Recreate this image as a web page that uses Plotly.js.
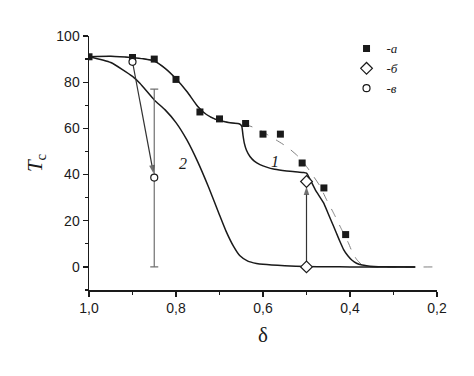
<!DOCTYPE html>
<html>
<head>
<meta charset="utf-8">
<script src="https://cdn.plot.ly/plotly-3.0.1.min.js"></script>
<style>html,body{margin:0;padding:0;background:#fff;}#chart{width:474px;height:376px;}</style>
</head>
<body>
<div id="chart"></div>
<script>
// Series a (filled squares)
const aX = [1.0, 0.9, 0.85, 0.8, 0.745, 0.70, 0.64, 0.60, 0.56, 0.51, 0.46, 0.41];
const aY = [91, 90.7, 90, 81.2, 67.1, 64.1, 62.1, 57.5, 57.5, 45, 34.2, 14];
// Series б (open diamonds)
const bX = [0.5, 0.5];
const bY = [0, 37];
// Series в (open circles) with error bar on second point
const vX = [0.9, 0.85];
const vY = [88.8, 38.7];
const vErrX = [0.85];
const vErrY = [38.7];
const vErrPlus = [38.3];
const vErrMinus = [38.7];
// Fit through series a (dashed)
const fitX = [1.0, 0.95, 0.9, 0.875, 0.85, 0.825, 0.8, 0.775, 0.75, 0.73, 0.71, 0.69, 0.67, 0.65, 0.63, 0.61, 0.59, 0.57, 0.545, 0.52, 0.5, 0.485, 0.469, 0.455, 0.438, 0.42, 0.404, 0.395, 0.385, 0.375, 0.365, 0.35, 0.2];
const fitY = [91, 91.2, 90.6, 90.1, 89.2, 86, 81.5, 76, 69.5, 66, 64, 63, 62.3, 62, 61, 59.5, 57.3, 55, 52, 48, 43.5, 39.5, 35, 29.5, 23.4, 16.5, 10.5, 6.5, 3.3, 1.3, 0.4, 0, 0];
// Curve 1
const c1X = [1.0, 0.95, 0.9, 0.875, 0.85, 0.825, 0.8, 0.775, 0.75, 0.73, 0.71, 0.69, 0.67, 0.655, 0.649, 0.646, 0.643, 0.638, 0.63, 0.62, 0.607, 0.59, 0.576, 0.555, 0.538, 0.52, 0.507, 0.5, 0.492, 0.48, 0.461, 0.45, 0.438, 0.425, 0.415, 0.405, 0.396, 0.385, 0.372, 0.362, 0.345, 0.32, 0.25];
const c1Y = [91, 91.2, 90.6, 90.1, 89.2, 86, 81.5, 76, 69.5, 66, 64, 63, 62.3, 62, 61, 57, 53.6, 50.5, 47.8, 45.8, 44.3, 43.1, 42.4, 41.8, 41.4, 41.1, 40.9, 40.6, 38, 33.5, 27.8, 23, 17.7, 11.8, 7.6, 4.8, 3.0, 1.6, 0.8, 0.5, 0.2, 0.05, 0];
// Curve 2
const c2X = [1.0, 0.95, 0.9, 0.883, 0.85, 0.825, 0.8, 0.775, 0.75, 0.725, 0.7, 0.685, 0.668, 0.653, 0.635, 0.615, 0.6, 0.55, 0.5, 0.45, 0.4, 0.25];
const c2Y = [91, 88.5, 82.5, 79.5, 72.3, 68, 62.5, 55, 45.5, 34.5, 22.5, 15.5, 9, 4.8, 2.5, 1.5, 1.1, 0.5, 0.2, 0.05, 0, 0];
// Curve labels
const labelX = [0.572, 0.783];
const labelY = [45.7, 45];
const labelText = ['1', '2'];
// Axis ticks
const xTicks = [1.0, 0.8, 0.6, 0.4, 0.2];
const xTickText = ['1,0', '0,8', '0,6', '0,4', '0,2'];
const yTicks = [0, 20, 40, 60, 80, 100];

const black = '#1a1a1a';
const arrowMarker = {symbol: ['line-ew', 'arrow'], size: [0, 9], color: '#333', angleref: 'previous', standoff: 4, line: {width: 0}};
const traces = [
  {x: fitX, y: fitY, mode: 'lines', line: {color: '#808080', width: 1, dash: 'dash', shape: 'spline', smoothing: 0.5}, showlegend: false, hoverinfo: 'skip'},
  {x: c1X, y: c1Y, mode: 'lines', line: {color: black, width: 1.5, shape: 'spline', smoothing: 0.5}, showlegend: false, hoverinfo: 'skip'},
  {x: c2X, y: c2Y, mode: 'lines', line: {color: black, width: 1.5, shape: 'spline', smoothing: 0.5}, showlegend: false, hoverinfo: 'skip'},
  {x: vErrX, y: vErrY, mode: 'markers', marker: {size: 7, color: 'rgba(0,0,0,0)'}, showlegend: false,
   error_y: {type: 'data', symmetric: false, array: vErrPlus, arrayminus: vErrMinus, color: '#707070', thickness: 1.2, width: 4}},
  // arrow 0.9 -> 0.85 (в)
  {x: vX, y: vY, mode: 'lines+markers', line: {color: '#333', width: 1.2}, marker: Object.assign({}, arrowMarker, {standoff: 4}), showlegend: false, hoverinfo: 'skip'},
  // arrow 0 -> 37 (б)
  {x: bX, y: bY, mode: 'lines+markers', line: {color: '#333', width: 1.2}, marker: Object.assign({}, arrowMarker, {standoff: 5}), showlegend: false, hoverinfo: 'skip'},
  {x: aX, y: aY, name: '-<i>а</i>', mode: 'markers', marker: {symbol: 'square', size: 7, color: black}},
  {x: bX, y: bY, name: '-<i>б</i>', mode: 'markers', marker: {symbol: 'diamond', size: 9, color: '#fff', line: {color: black, width: 1.2}}},
  {x: vX, y: vY, name: '-<i>в</i>', mode: 'markers', marker: {symbol: 'circle', size: 7, color: '#fff', line: {color: black, width: 1.2}}}
];

const annotations = [];
labelX.forEach((lx, i) => annotations.push({x: lx, y: labelY[i], xref: 'x', yref: 'y', text: '<i>' + labelText[i] + '</i>', showarrow: false,
  font: {family: 'Liberation Serif', size: 16, color: black}}));

const layout = {
  width: 474, height: 376,
  margin: {l: 89, r: 37, t: 36, b: 86},
  paper_bgcolor: '#fff', plot_bgcolor: '#fff',
  separators: ',.',
  showlegend: true,
  legend: {x: 0.74, y: 1.01, xanchor: 'left', yanchor: 'top', bgcolor: 'rgba(0,0,0,0)',
           font: {family: 'Liberation Serif', size: 13, color: black}, tracegroupgap: 0},
  xaxis: {range: [1.0, 0.2], tickvals: xTicks, ticktext: xTickText, ticks: 'outside', ticklen: 5, tickwidth: 1.3, tickcolor: black,
          minor: {dtick: 0.1, tick0: 0, ticks: 'outside', ticklen: 3, tickwidth: 1.2, tickcolor: black},
          showline: true, linecolor: black, linewidth: 1.5, showgrid: false, zeroline: false,
          tickfont: {family: 'Liberation Sans', size: 14, color: black},
          title: {text: 'δ', font: {family: 'Liberation Serif', size: 21, color: black}, standoff: 12}},
  yaxis: {range: [-10, 100], tickvals: yTicks, ticks: 'outside', ticklen: 5, tickwidth: 1.3, tickcolor: black,
          minor: {dtick: 10, tick0: 0, ticks: 'outside', ticklen: 3, tickwidth: 1.2, tickcolor: black},
          showline: true, linecolor: black, linewidth: 1.5, showgrid: false, zeroline: false,
          tickfont: {family: 'Liberation Sans', size: 14, color: black},
          title: {text: '<i>T</i><sub>c</sub>', font: {family: 'Liberation Serif', size: 21, color: black}, standoff: 8}},
  annotations: annotations
};

Plotly.newPlot('chart', traces, layout, {displayModeBar: false, staticPlot: true});
</script>
</body>
</html>
